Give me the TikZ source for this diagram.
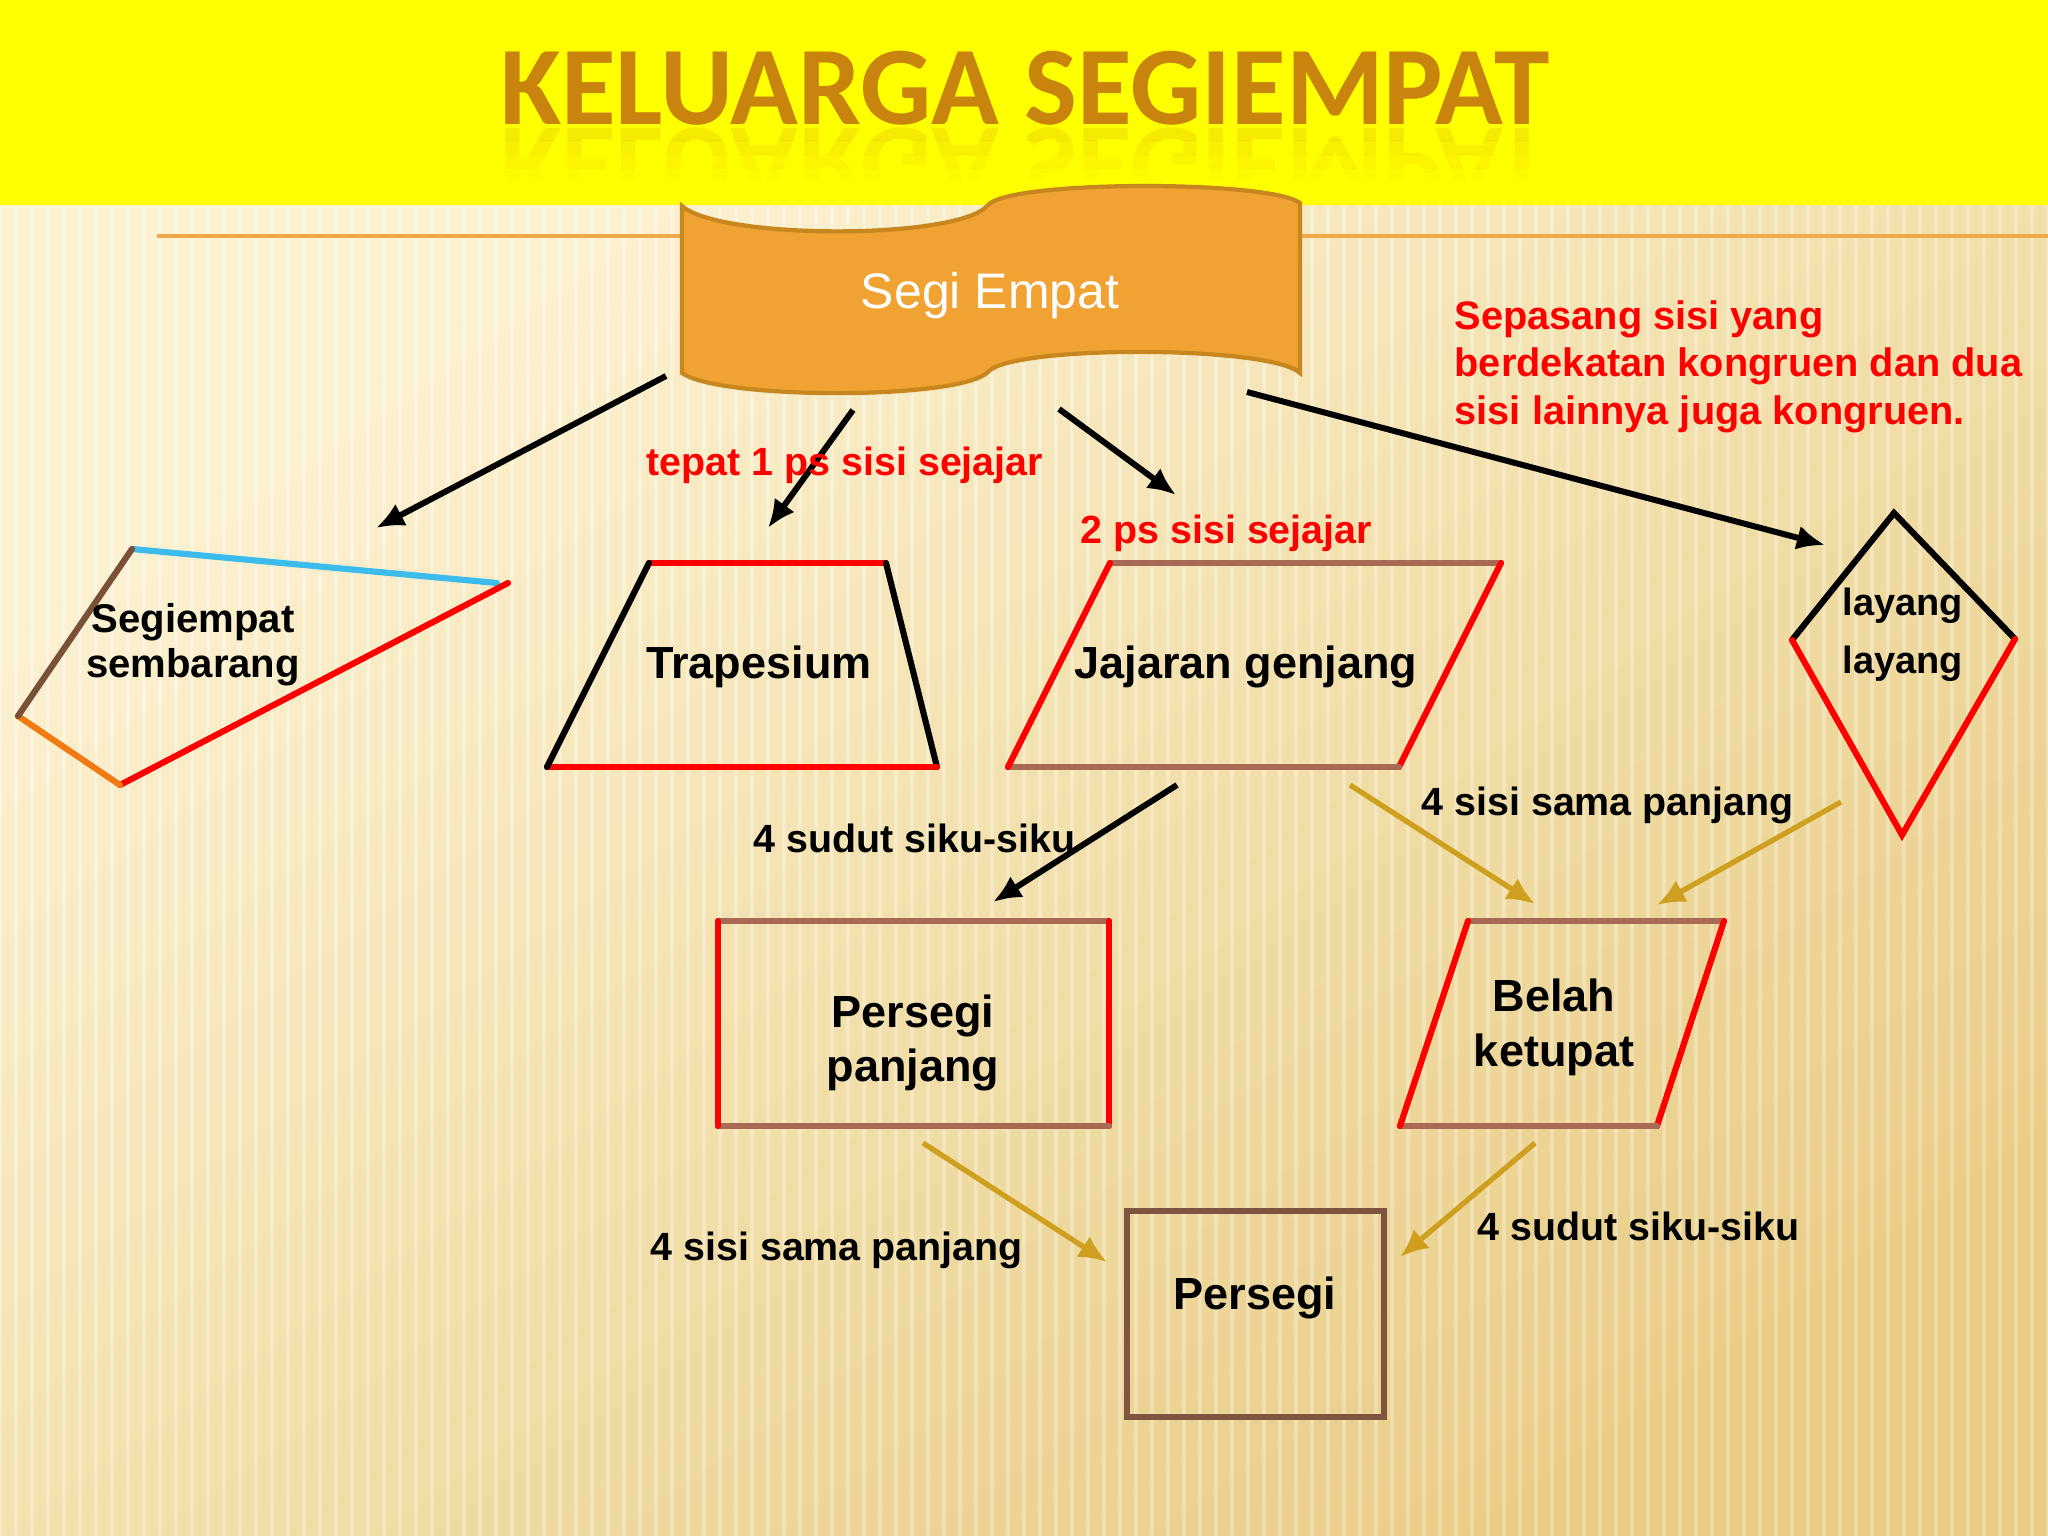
\documentclass[tikz,border=0pt]{standalone}
\usepackage{fontspec}
\setmainfont{Liberation Sans}
\newfontfamily\titlefont{Carlito}
\usepackage{tikz}
\usetikzlibrary{arrows.meta}
\tikzset{>={Latex[length=8pt,width=7pt]}}
\definecolor{headyellow}{HTML}{FFFF00}
\definecolor{bgtop}{HTML}{FCF2D2}
\definecolor{bgbot}{HTML}{E8CD86}
\definecolor{lineorange}{HTML}{F0A848}
\definecolor{titlegold}{HTML}{C8840C}
\definecolor{bannerfill}{HTML}{F0A232}
\definecolor{bannerline}{HTML}{C8861E}
\definecolor{skyblue}{HTML}{3CBCEC}
\definecolor{edgeorange}{HTML}{F27A12}
\definecolor{darkbrown}{HTML}{7A5038}
\definecolor{edgebrown}{HTML}{A86A55}
\definecolor{squarebrown}{HTML}{7E5540}
\definecolor{arrowgold}{HTML}{CFA020}

\begin{document}
\begin{tikzpicture}[x=0.01cm, y=-0.01cm,
  shp/.style={line width=1.75pt, line cap=round},
  blk/.style={->, line width=1.7pt, black},
  gld/.style={->, line width=1.5pt, arrowgold},
  lbl/.style={font=\bfseries\fontsize{11.2}{13}\selectfont, inner sep=0pt},
  biglbl/.style={font=\bfseries\fontsize{12.8}{15.6}\selectfont, inner sep=0pt, align=center},
  redlbl/.style={lbl, text=red},
  ttl/.style={font=\titlefont\bfseries\fontsize{31.8}{36}\selectfont, text=titlegold, anchor=base}]

\useasboundingbox (0,0) rectangle (2048,1536);
\shade[top color=bgtop, bottom color=bgbot, shading angle=35] (0,205) rectangle (2048,1536);
\foreach \x in {0,16,...,2048}
  \draw[white, opacity=0.3, line width=1.4pt] (\x,205) -- (\x,1536);
\fill[headyellow] (0,0) rectangle (2048,205);
\draw[lineorange, line width=1pt] (157,236) -- (2048,236);
\node[ttl] (title) at (1025,124) {KELUARGA SEGIEMPAT};
\foreach \y/\o in {126/0.17,140/0.12,154/0.07,166/0.03}
{
  \begin{scope}
    \clip (0,\y) rectangle (2048,\y+14);
    \node[ttl, yscale=-1, transform shape, opacity=\o] at (1025,128) {KELUARGA SEGIEMPAT};
  \end{scope}
}

% banner
\draw[bannerline, fill=bannerfill, line width=1.2pt] (682,206) .. controls (720,240) and (960,240) .. (988,205)
  .. controls (1010,180) and (1270,180) .. (1300,203) -- (1300,373)
  .. controls (1270,345) and (1010,345) .. (988,372) .. controls (960,400) and (720,400) .. (682,373) -- cycle;
\node[text=white, font=\fontsize{14.2}{17}\selectfont, anchor=base] (segiempat) at (990,308) {Segi Empat};

\coordinate (seg-a) at (666,376);
\coordinate (seg-b) at (853,410);
\coordinate (seg-c) at (1059,409);
\coordinate (seg-d) at (1247,392);
\coordinate (sem-in) at (376,528);
\coordinate (tra-in) at (768,528);
\coordinate (jaj-in) at (1176,495);
\coordinate (lay-in) at (1825,545);
\coordinate (jaj-a) at (1177,785);
\coordinate (jaj-b) at (1350,785);
\coordinate (lay-out) at (1841,802);
\coordinate (pp-in) at (993,902);
\coordinate (bk-in1) at (1535,904);
\coordinate (bk-in2) at (1657,905);
\coordinate (pp-out) at (923,1143);
\coordinate (bk-out) at (1535,1143);
\coordinate (ps-in1) at (1107,1262);
\coordinate (ps-in2) at (1400,1257);

% segiempat sembarang
\draw[shp, skyblue] (132,549) -- (497,583);
\draw[shp, red] (508,583) -- (120,785);
\draw[shp, edgeorange] (120,785) -- (18,716);
\draw[shp, darkbrown] (18,716) -- (132,549);
\node[font=\bfseries\fontsize{11.4}{12.8}\selectfont, inner sep=0pt, align=center] (sembarang) at (193,645) {Segiempat\\sembarang};

% trapesium
\draw[shp, red] (649,563) -- (886,563);
\draw[shp, black] (886,563) -- (937,767);
\draw[shp, red] (937,767) -- (547,767);
\draw[shp, black] (547,767) -- (649,563);
\node[biglbl, anchor=base] (trapesium) at (759,678) {Trapesium};

% jajaran genjang
\draw[shp, edgebrown] (1110,563) -- (1501,563);
\draw[shp, red] (1501,563) -- (1399,767);
\draw[shp, edgebrown] (1399,767) -- (1008,767);
\draw[shp, red] (1008,767) -- (1110,563);
\node[biglbl, anchor=base] (jajaran) at (1246,678) {Jajaran genjang};

% layang-layang
\draw[shp, black] (1792,640) -- (1894,513) -- (2015,639);
\draw[shp, red] (1792,640) -- (1902,835) -- (2015,639);
\node[font=\bfseries\fontsize{10.8}{16.5}\selectfont, inner sep=0pt, align=center] (layang) at (1903,635) {layang\\layang};

% persegi panjang
\draw[shp, edgebrown] (718,921) -- (1109,921);
\draw[shp, red] (1109,921) -- (1109,1126);
\draw[shp, edgebrown] (1109,1126) -- (718,1126);
\draw[shp, red] (718,1126) -- (718,921);
\node[biglbl] (ppanjang) at (913,1043) {Persegi\\panjang};

% belah ketupat
\draw[shp, edgebrown] (1468,921) -- (1724,921);
\draw[shp, red] (1724,921) -- (1657,1126);
\draw[shp, edgebrown] (1657,1126) -- (1400,1126);
\draw[shp, red] (1400,1126) -- (1468,921);
\node[biglbl] (ketupat) at (1554,1027) {Belah\\ketupat};

% persegi
\draw[shp, squarebrown] (1127,1211) rectangle (1384,1417);
\node[biglbl, anchor=base] (persegi) at (1255,1309) {Persegi};

\draw[blk] (seg-a) -- (sem-in);
\draw[blk] (seg-b) -- (tra-in);
\draw[blk] (seg-c) -- (jaj-in);
\draw[blk] (seg-d) -- (lay-in);
\draw[blk] (jaj-a) -- (pp-in);
\draw[gld] (jaj-b) -- (bk-in1);
\draw[gld] (lay-out) -- (bk-in2);
\draw[gld] (pp-out) -- (ps-in1);
\draw[gld] (bk-out) -- (ps-in2);

\node[redlbl, anchor=base west] (satu) at (646,475) {tepat 1 ps sisi sejajar};
\node[redlbl, anchor=base west] (dua) at (1080,543) {2 ps sisi sejajar};
\node[font=\bfseries\fontsize{11.3}{13.5}\selectfont, text=red, inner sep=0pt, align=left, anchor=north west] (sepasang) at (1454,300) {Sepasang sisi yang\\berdekatan kongruen dan dua\\sisi lainnya juga kongruen.};
\node[lbl, anchor=base west] (siku1) at (753,852) {4 sudut siku-siku};
\node[lbl, anchor=base west] (sama1) at (1421,815) {4 sisi sama panjang};
\node[lbl, anchor=base west] (sama2) at (650,1260) {4 sisi sama panjang};
\node[lbl, anchor=base west] (siku2) at (1477,1240) {4 sudut siku-siku};
\end{tikzpicture}
\end{document}
